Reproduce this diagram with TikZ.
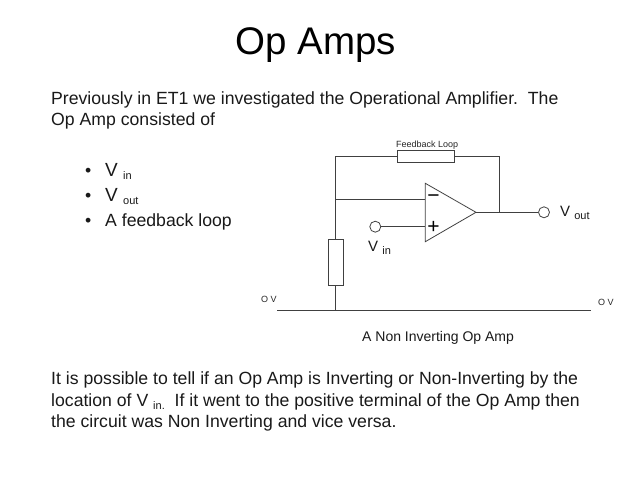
\documentclass[tikz,border=0pt]{standalone}
\usepackage{fontspec}
\setmainfont{Liberation Sans}
\usetikzlibrary{positioning}
\tikzset{
  wire/.style={draw=black!75, line width=0.8pt},
  resistor/.style={draw=black!75, line width=0.8pt, fill=white, inner sep=0pt},
  terminal/.style={circle, draw=black!75, line width=0.8pt, fill=white, minimum size=11pt, inner sep=0pt},
  bodytext/.style={anchor=base west, inner sep=0pt, font=\fontsize{17.65}{18}\selectfont, text=black!90},
  smalltext/.style={anchor=base west, inner sep=0pt, font=\fontsize{14}{14}\selectfont, text=black!90},
  tinytext/.style={anchor=base west, inner sep=0pt, font=\fontsize{9}{9}\selectfont, text=black!85}
}
\newcommand{\lowsub}[2]{\raisebox{-#2pt}{\fontsize{11}{11}\selectfont #1}}
\begin{document}
\begin{tikzpicture}[x=1pt, y=-1pt]
    \useasboundingbox (0,0) rectangle (638,478);
    %testo
    \node[anchor=base, inner sep=0pt, font=\fontsize{38.5}{39}\selectfont] (title) at (316,55) {Op Amps};
    \node[bodytext] (introa) at (51,105) {Previously in ET1 we investigated the Operational Amplifier.\ \ The};
    \node[bodytext] (introb) at (51,126) {Op Amp consisted of};
    \node[bodytext] (bulleta) at (85,177) {•};
    \node[bodytext] (bulletb) at (85,202) {•};
    \node[bodytext] (bulletc) at (85,227) {•};
    \node[bodytext] (itema) at (105,177) {\fontsize{19}{19}\selectfont V \lowsub{in}{3}};
    \node[bodytext] (itemb) at (105,202) {\fontsize{19}{19}\selectfont V \lowsub{out}{3}};
    \node[bodytext] (itemc) at (105,227) {A feedback loop};
    \node[bodytext] (closea) at (51,385) {It is possible to tell if an Op Amp is Inverting or Non-Inverting by the};
    \node[bodytext] (closeb) at (51,407) {location of V \lowsub{in.}{3}\ \ If it went to the positive terminal of the Op Amp then};
    \node[bodytext] (closec) at (51,428) {the circuit was Non Inverting and vice versa.};
    %componenti
    \node[resistor, minimum width=57pt, minimum height=11.5pt] (rfeed) at (425.8,156.5) {};
    \node[resistor, minimum width=15pt, minimum height=46.5pt] (rground) at (335.8,262.3) {};
    \node[terminal] (vin) at (375.3,226.7) {};
    \node[terminal] (vout) at (544,212.3) {};
    \coordinate (optop) at (425.3,183.3);
    \coordinate (opbot) at (425.3,241.7);
    \coordinate (opout) at (476,212.3);
    \coordinate (minus) at (425.3,199.3);
    \coordinate (plus) at (425.3,226.7);
    \coordinate (topleft) at (335.8,156.5);
    \coordinate (topright) at (499.3,156.5);
    \coordinate (outjoin) at (499.3,212.3);
    \coordinate (minusjoin) at (335.8,199.3);
    \coordinate (groundjoin) at (335.8,310);
    \coordinate (groundl) at (277.3,310);
    \coordinate (groundr) at (590.7,310);
    \draw[wire, line join=miter] (optop) -- (opbot) -- (opout) -- cycle;
    %collegamenti
    \draw[wire] (rfeed.west) -- (topleft) -- (rground.north);
    \draw[wire] (rfeed.east) -- (topright) -- (outjoin);
    \draw[wire] (minusjoin) -- (minus);
    \draw[wire] (vin) -- (plus);
    \draw[wire] (opout) -- (vout);
    \draw[wire] (rground.south) -- (groundjoin);
    \draw[wire] (groundl) -- (groundr);
    %etichette
    \node[anchor=center, inner sep=0pt, font=\fontsize{21}{21}\selectfont] (minussign) at (433.5,199) {\textminus};
    \node[anchor=center, inner sep=0pt, font=\fontsize{21}{21}\selectfont] (plussign) at (433.5,227) {+};
    \node[tinytext] (fblabel) at (396,148) {Feedback Loop};
    \node[smalltext] (vinlabel) at (368,252) {\fontsize{15}{15}\selectfont V \lowsub{in}{3}};
    \node[smalltext] (voutlabel) at (560,217) {\fontsize{15}{15}\selectfont V \lowsub{out}{3}};
    \node[tinytext] (gndl) at (261,303) {O V};
    \node[tinytext] (gndr) at (598,306) {O V};
    \node[smalltext] (caption) at (362,342) {A Non Inverting Op Amp};
\end{tikzpicture}
\end{document}
